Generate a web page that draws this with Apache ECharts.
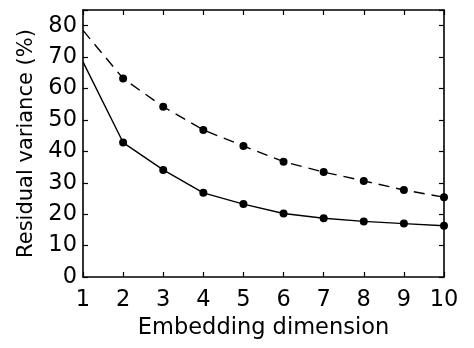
<!DOCTYPE html>
<html>
<head>
<meta charset="utf-8">
<script src="https://cdn.jsdelivr.net/npm/echarts@6/dist/echarts.min.js"></script>
<style>
  html, body { margin: 0; padding: 0; background: #fff; }
  #chart { width: 474px; height: 348px; }
</style>
</head>
<body>
<div id="chart"></div>
<script>
// Embedding dimensions on the x axis
const dimensions = [1, 2, 3, 4, 5, 6, 7, 8, 9, 10];
// Residual variance (%) for the two methods
const solidValues  = [68.5, 42.8, 34.1, 26.8, 23.2, 20.2, 18.7, 17.7, 17.0, 16.3];
const dashedValues = [78.5, 63.2, 54.2, 46.8, 41.7, 36.7, 33.4, 30.6, 27.7, 25.4];
// Axis tick values
const xTicks = [1, 2, 3, 4, 5, 6, 7, 8, 9, 10];
const yTicks = [0, 10, 20, 30, 40, 50, 60, 70, 80];

const FONT = 'DejaVu Sans';
const INK = '#000';

// First point has no marker; the rest are dots
function toPoints(values) {
  return dimensions.map((d, i) => i === 0
    ? { value: [d, values[i]], symbol: 'none' }
    : { value: [d, values[i]] });
}

const frameAxisLine = { show: true, onZero: false, lineStyle: { color: INK, width: 1.6 } };
const innerTick = { show: true, inside: true, length: 5, lineStyle: { color: INK, width: 1.2 } };

const chart = echarts.init(document.getElementById('chart'), null, { renderer: 'canvas' });
chart.setOption({
  animation: false,
  backgroundColor: '#fff',
  grid: { left: 83, right: 30, top: 10, bottom: 71, containLabel: false },
  xAxis: [
    {
      type: 'value', min: xTicks[0], max: xTicks[xTicks.length - 1], interval: 1,
      position: 'bottom',
      name: 'Embedding dimension', nameLocation: 'middle', nameGap: 39,
      nameTextStyle: { fontFamily: FONT, fontSize: 22.5, color: INK },
      axisLine: frameAxisLine, axisTick: innerTick, splitLine: { show: false },
      axisLabel: { fontFamily: FONT, fontSize: 22.5, color: INK, margin: 12 }
    },
    {
      type: 'value', min: xTicks[0], max: xTicks[xTicks.length - 1], interval: 1,
      position: 'top',
      axisLine: frameAxisLine, axisTick: innerTick, splitLine: { show: false },
      axisLabel: { show: false }
    }
  ],
  yAxis: [
    {
      type: 'value', min: 0, max: 85, interval: 10,
      position: 'left',
      name: 'Residual variance (%)', nameLocation: 'middle', nameGap: 40,
      nameTextStyle: { fontFamily: FONT, fontSize: 21, color: INK },
      axisLine: frameAxisLine, axisTick: innerTick, splitLine: { show: false },
      axisLabel: {
        fontFamily: FONT, fontSize: 22.5, color: INK, margin: 6,
        formatter: v => (yTicks.includes(v) ? String(v) : '')
      }
    },
    {
      type: 'value', min: 0, max: 85, interval: 10,
      position: 'right',
      axisLine: frameAxisLine, axisTick: innerTick, splitLine: { show: false },
      axisLabel: { show: false }
    }
  ],
  series: [
    {
      type: 'line', xAxisIndex: 0, yAxisIndex: 0,
      data: toPoints(solidValues),
      symbol: 'circle', symbolSize: 8, clip: false,
      lineStyle: { color: INK, width: 1.4, type: 'solid' },
      itemStyle: { color: INK }
    },
    {
      type: 'line', xAxisIndex: 0, yAxisIndex: 0,
      data: toPoints(dashedValues),
      symbol: 'circle', symbolSize: 8, clip: false,
      lineStyle: { color: INK, width: 1.4, type: [11, 7] },
      itemStyle: { color: INK }
    }
  ]
});
</script>
</body>
</html>
